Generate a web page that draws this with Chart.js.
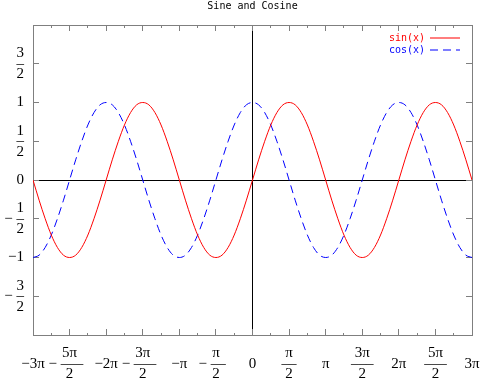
<!DOCTYPE html>
<html>
<head>
<meta charset="utf-8">
<script src="https://cdn.jsdelivr.net/npm/chart.js@4.4.1/dist/chart.umd.min.js"></script>
<style>
  html, body { margin: 0; padding: 0; background: #ffffff; }
  canvas { display: block; }
</style>
</head>
<body>
<canvas id="c" width="481" height="384"></canvas>
<script>
// ---- data (x in degrees, -3π .. 3π) ----
const xDeg = [
  -540, -525, -510, -495, -480, -465, -450, -435, -420, -405, -390, -375,
  -360, -345, -330, -315, -300, -285, -270, -255, -240, -225, -210, -195,
  -180, -165, -150, -135, -120, -105, -90, -75, -60, -45, -30, -15,
  0, 15, 30, 45, 60, 75, 90, 105, 120, 135, 150, 165,
  180, 195, 210, 225, 240, 255, 270, 285, 300, 315, 330, 345,
  360, 375, 390, 405, 420, 435, 450, 465, 480, 495, 510, 525,
  540
];
const sinY = [
  0, -0.26, -0.5, -0.71, -0.87, -0.97, -1, -0.97, -0.87, -0.71, -0.5, -0.26,
  0, 0.26, 0.5, 0.71, 0.87, 0.97, 1, 0.97, 0.87, 0.71, 0.5, 0.26,
  0, -0.26, -0.5, -0.71, -0.87, -0.97, -1, -0.97, -0.87, -0.71, -0.5, -0.26,
  0, 0.26, 0.5, 0.71, 0.87, 0.97, 1, 0.97, 0.87, 0.71, 0.5, 0.26,
  0, -0.26, -0.5, -0.71, -0.87, -0.97, -1, -0.97, -0.87, -0.71, -0.5, -0.26,
  0, 0.26, 0.5, 0.71, 0.87, 0.97, 1, 0.97, 0.87, 0.71, 0.5, 0.26,
  0
];
const cosY = [
  -1, -0.97, -0.87, -0.71, -0.5, -0.26, 0, 0.26, 0.5, 0.71, 0.87, 0.97,
  1, 0.97, 0.87, 0.71, 0.5, 0.26, 0, -0.26, -0.5, -0.71, -0.87, -0.97,
  -1, -0.97, -0.87, -0.71, -0.5, -0.26, 0, 0.26, 0.5, 0.71, 0.87, 0.97,
  1, 0.97, 0.87, 0.71, 0.5, 0.26, 0, -0.26, -0.5, -0.71, -0.87, -0.97,
  -1, -0.97, -0.87, -0.71, -0.5, -0.26, 0, 0.26, 0.5, 0.71, 0.87, 0.97,
  1, 0.97, 0.87, 0.71, 0.5, 0.26, 0, -0.26, -0.5, -0.71, -0.87, -0.97,
  -1
];
const seriesNames = ['sin(x)', 'cos(x)'];
const xTickLabels = ['−3π', '−5π/2', '−2π', '−3π/2', '−π', '−π/2', '0', 'π/2', 'π', '3π/2', '2π', '5π/2', '3π'];
const yTickLabels = ['', '−3/2', '−1', '−1/2', '0', '1/2', '1', '3/2', ''];
const titleText = 'Sine and Cosine';

// ---- helpers ----
const GREY = '#7f7f7f';
function barFor(num) {
  return '–'.repeat(num.length > 1 ? 3 : (num === 'π' ? 2 : 1));
}
function stackLabel(label, forX) {
  const m = /^(−?)(.+)\/(.+)$/.exec(label);
  if (!m) return ['', label, ''];
  const sign = m[1], num = m[2], den = m[3];
  let mid = sign ? sign + ' ' + barFor(num) : barFor(num);
  if (sign && forX) mid += '\u2002';
  return [num, mid, den];
}
// black zero axes, grey frame at the range ends, nothing elsewhere
const axisLines = c => {
  if (!c.tick) return 'rgba(0,0,0,0)';
  const v = c.tick.value;
  if (v === 0) return '#000000';
  if (v === c.scale.min || v === c.scale.max) return GREY;
  return 'rgba(0,0,0,0)';
};
const tickFont = { family: 'Liberation Serif', size: 15, lineHeight: 0.7 };

const legendPlacement = {
  id: 'legendPlacement',
  afterLayout(chart) {
    const lg = chart.legend, ca = chart.chartArea;
    if (!lg) return;
    lg.left = ca.left;
    lg.right = ca.right - 10;
    lg.width = lg.right - lg.left;
    lg.top = ca.top + 6;
    lg.height = 30;
    lg.bottom = lg.top + lg.height;
  }
};

new Chart(document.getElementById('c'), {
  type: 'line',
  data: {
    datasets: [
      {
        label: seriesNames[0],
        data: xDeg.map((x, i) => ({ x: x, y: sinY[i] })),
        borderColor: '#ff0000',
        backgroundColor: '#ff0000',
        borderWidth: 1,
        pointRadius: 0,
        cubicInterpolationMode: 'monotone'
      },
      {
        label: seriesNames[1],
        data: xDeg.map((x, i) => ({ x: x, y: cosY[i] })),
        borderColor: '#0000ff',
        backgroundColor: '#0000ff',
        borderWidth: 1,
        borderDash: [8, 5],
        pointRadius: 0,
        cubicInterpolationMode: 'monotone'
      }
    ]
  },
  plugins: [legendPlacement],
  options: {
    responsive: false,
    devicePixelRatio: 1,
    animation: false,
    events: [],
    layout: { padding: 0 },
    plugins: {
      tooltip: { enabled: false },
      title: {
        display: true,
        text: titleText,
        fullSize: false,
        color: '#000000',
        font: { family: 'DejaVu Sans Mono', size: 10, weight: 'normal', lineHeight: 1.2 },
        padding: { top: 0, bottom: 13 }
      },
      legend: {
        display: true,
        position: 'chartArea',
        align: 'start',
        rtl: true,
        textDirection: 'ltr',
        labels: {
          font: { family: 'DejaVu Sans Mono', size: 10 },
          boxWidth: 30,
          boxHeight: 0,
          padding: 2,
          generateLabels: (chart) => Chart.defaults.plugins.legend.labels.generateLabels(chart)
            .map(l => Object.assign(l, { fontColor: chart.data.datasets[l.datasetIndex].borderColor, lineWidth: 0.6 }))
        }
      }
    },
    scales: {
      x: {
        type: 'linear',
        position: 'bottom',
        min: -540,
        max: 540,
        ticks: {
          stepSize: 45,
          autoSkip: false,
          maxRotation: 0,
          minRotation: 0,
          padding: 19,
          color: '#000000',
          font: tickFont,
          callback: (v, i) => (i % 2 === 0) ? stackLabel(xTickLabels[i / 2], true) : ''
        },
        grid: {
          drawOnChartArea: true,
          drawTicks: true,
          tickLength: -6,
          lineWidth: 1,
          color: axisLines,
          tickColor: GREY,
          tickBorderDash: c => (c.index % 2) ? [3, 100] : []
        },
        border: { display: true, color: GREY, width: 1 },
        afterFit: s => { s.height = 49; s.paddingLeft = 0; s.paddingRight = 0; }
      },
      x2: {
        type: 'linear',
        position: 'top',
        min: -540,
        max: 540,
        ticks: { display: false, stepSize: 45, autoSkip: false },
        grid: {
          drawOnChartArea: false,
          drawTicks: true,
          tickLength: -6,
          tickColor: GREY,
          tickBorderDash: c => (c.index % 2) ? [0, 3, 3, 100] : []
        },
        border: { display: true, color: GREY, width: 1 },
        afterFit: s => { s.height = 0; s.paddingLeft = 0; s.paddingRight = 0; }
      },
      y: {
        type: 'linear',
        position: 'left',
        min: -2,
        max: 2,
        ticks: {
          stepSize: 0.5,
          autoSkip: false,
          padding: 15,
          color: '#000000',
          font: tickFont,
          callback: (v, i) => stackLabel(yTickLabels[i], false)
        },
        grid: {
          drawOnChartArea: true,
          drawTicks: true,
          tickLength: -6,
          lineWidth: 1,
          color: axisLines,
          tickColor: GREY
        },
        border: { display: true, color: GREY, width: 1 },
        afterFit: s => { s.width = 33; s.paddingTop = 0; s.paddingBottom = 0; }
      },
      y2: {
        type: 'linear',
        position: 'right',
        min: -2,
        max: 2,
        ticks: { display: false, stepSize: 0.5, autoSkip: false },
        grid: {
          drawOnChartArea: false,
          drawTicks: true,
          tickLength: -6,
          tickColor: GREY
        },
        border: { display: true, color: GREY, width: 1 },
        afterFit: s => { s.width = 9; s.paddingTop = 0; s.paddingBottom = 0; }
      }
    }
  }
});
</script>
</body>
</html>
